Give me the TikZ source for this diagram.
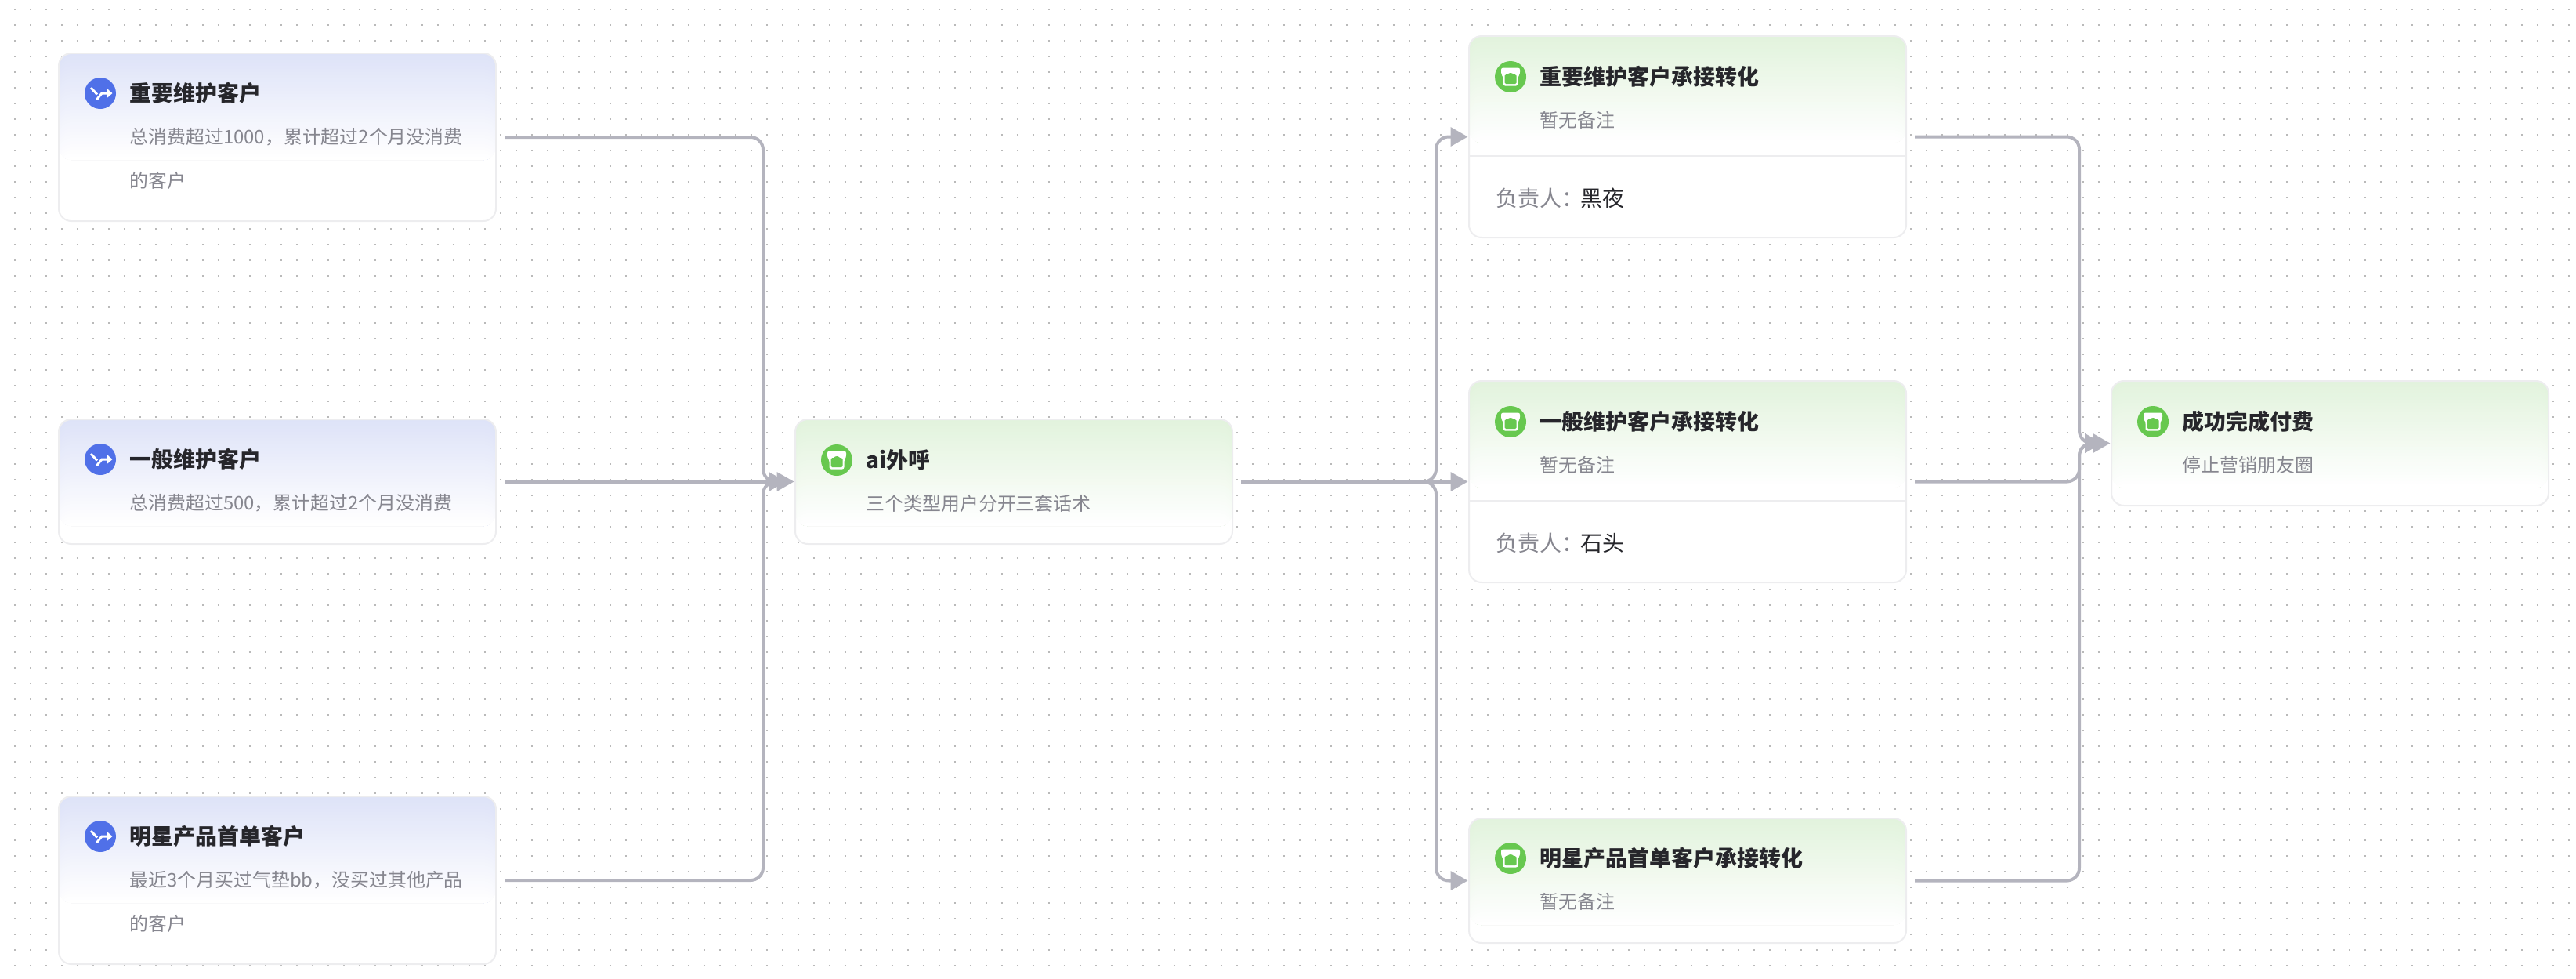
\documentclass[tikz,border=0pt]{standalone}
\usepackage{fontspec}
\setmainfont{Noto Sans CJK SC}
\usepackage{xcolor}
\usetikzlibrary{arrows.meta, positioning}

\definecolor{griddot}{HTML}{BABABA}
\definecolor{cardline}{HTML}{EDEDEF}
\definecolor{bluetop}{HTML}{DEE3F8}
\definecolor{greentop}{HTML}{E2F3DD}
\definecolor{blueicon}{HTML}{5070E8}
\definecolor{greenicon}{HTML}{67C84F}
\definecolor{flowline}{HTML}{B4B4BE}
\definecolor{titleink}{HTML}{26262B}
\definecolor{descink}{HTML}{86868F}

\tikzset{
    card/.style={rectangle, draw=cardline, line width=1.13pt, fill=white, rounded corners=0.32cm, minimum width=11.16cm, inner sep=0pt, outer sep=0pt},
    fadecard/.style={card, path picture={
        \foreach \p [evaluate=\p as \mix using int(100-3*\p)] in {0,...,33} {
            \fill[#1!\mix!white] ([yshift={-\p*0.08cm}]path picture bounding box.north west) rectangle ([yshift=-2.72cm]path picture bounding box.north east);
        }}},
    bluecard/.style={fadecard=bluetop},
    greencard/.style={fadecard=greentop},
    routeicon/.style={circle, fill=blueicon, minimum size=0.8cm, inner sep=0pt, path picture={
        \begin{scope}[shift={(path picture bounding box.center)}]
            \draw[white, line width=1.7pt] (-0.24,0.14) -- (-0.08,-0.03);
            \draw[white, line width=1.7pt] (-0.09,-0.16) -- (0.04,0) -- (0.2,0);
            \fill[white] (0.31,0) -- (0.16,0.13) -- (0.16,-0.13) -- cycle;
        \end{scope}}},
    shopicon/.style={circle, fill=greenicon, minimum size=0.8cm, inner sep=0pt, path picture={
        \begin{scope}[shift={(path picture bounding box.center)}]
            \fill[white, rounded corners=0.05cm] (-0.24,0.23) -- (0.24,0.23) -- (0.24,0.07) -- (0.19,0) -- (0.19,-0.23) -- (-0.19,-0.23) -- (-0.19,0) -- (-0.24,0.07) -- cycle;
            \fill[greenicon, rounded corners=0.03cm] (-0.15,-0.18) -- (0.15,-0.18) -- (0.15,0) .. controls (0.15,0.06) and (0.08,0.06) .. (0.06,0.07) .. controls (0.03,0.1) and (-0.03,0.1) .. (-0.06,0.07) .. controls (-0.08,0.06) and (-0.15,0.06) .. (-0.15,0) -- cycle;
        \end{scope}}},
    cardtitle/.style={anchor=west, inner sep=0pt, text=titleink, text height=14pt, text depth=1.9pt, font=\fontsize{15.9pt}{15.9pt}\selectfont\bfseries},
    carddesc/.style={anchor=west, inner sep=0pt, text=descink, text height=12pt, text depth=1.6pt, font=\fontsize{13.6pt}{13.6pt}\selectfont},
    ownerlabel/.style={anchor=west, inner sep=0pt, text=descink, text height=14pt, text depth=1.9pt, font=\fontsize{15.9pt}{15.9pt}\selectfont},
    ownername/.style={anchor=west, inner sep=0pt, text=titleink, text height=14pt, text depth=1.9pt, font=\fontsize{15.9pt}{15.9pt}\selectfont},
    flow/.style={draw=flowline, line width=2.27pt, rounded corners=0.32cm, -{Triangle[length=12.5pt, width=13.6pt]}, shorten <=0.22cm, shorten >=0.03cm},
    flowrear/.style={flow, shorten >=0.24cm},
}

\begin{document}
\begin{tikzpicture}
    \useasboundingbox (0,0) rectangle (65.76,-24.96);

    % Dot grid
    \foreach \j in {0,...,61} {
        \draw[griddot, line width=0.04cm, dash pattern=on 0.04cm off 0.36cm] (0.36,{-0.24-0.4*\j}) -- (65.76,{-0.24-0.4*\j});
    }

    % Customer cards
    \node (heavy) [bluecard, minimum height=4.28cm] at (7.08,-3.5) {};
    \node (normal) [bluecard, minimum height=3.18cm, below=5.06cm of heavy] {};
    \node (star) [bluecard, minimum height=4.28cm, below=6.44cm of normal] {};

    % Call card and conversion cards
    \node (ai) [greencard, minimum height=3.18cm, right=7.64cm of normal] {};
    \node (normalconv) [greencard, minimum height=5.14cm, right=6.04cm of ai] {};
    \node (heavyconv) [greencard, minimum height=5.14cm, above=3.66cm of normalconv] {};
    \node (starconv) [greencard, minimum height=3.18cm, below=6.02cm of normalconv] {};
    \node (paid) [greencard, minimum height=3.18cm, right=5.24cm of normalconv, yshift=0.98cm] {};

    % Icons
    \node (heavyicon) [routeicon] at ([shift={(1.06,-1.02)}]heavy.north west) {};
    \node (normalicon) [routeicon] at ([shift={(1.06,-1.02)}]normal.north west) {};
    \node (staricon) [routeicon] at ([shift={(1.06,-1.02)}]star.north west) {};
    \node (aiicon) [shopicon] at ([shift={(1.06,-1.04)}]ai.north west) {};
    \node (heavyconvicon) [shopicon] at ([shift={(1.06,-1.04)}]heavyconv.north west) {};
    \node (normalconvicon) [shopicon] at ([shift={(1.06,-1.04)}]normalconv.north west) {};
    \node (starconvicon) [shopicon] at ([shift={(1.06,-1.02)}]starconv.north west) {};
    \node (paidicon) [shopicon] at ([shift={(1.06,-1.04)}]paid.north west) {};

    % Titles
    \node (heavytitle) [cardtitle, right=0.34cm of heavyicon.east, anchor=west] {重要维护客户};
    \node (normaltitle) [cardtitle, right=0.34cm of normalicon.east, anchor=west] {一般维护客户};
    \node (startitle) [cardtitle, right=0.34cm of staricon.east, anchor=west] {明星产品首单客户};
    \node (aititle) [cardtitle, right=0.34cm of aiicon.east, anchor=west] {ai外呼};
    \node (heavyconvtitle) [cardtitle, right=0.34cm of heavyconvicon.east, anchor=west] {重要维护客户承接转化};
    \node (normalconvtitle) [cardtitle, right=0.34cm of normalconvicon.east, anchor=west] {一般维护客户承接转化};
    \node (starconvtitle) [cardtitle, right=0.34cm of starconvicon.east, anchor=west] {明星产品首单客户承接转化};
    \node (paidtitle) [cardtitle, right=0.34cm of paidicon.east, anchor=west] {成功完成付费};

    % Descriptions
    \node (heavydesc) [carddesc, below=1.1cm of heavytitle.west, anchor=west] {总消费超过1000，累计超过2个月没消费};
    \node (heavymore) [carddesc, below=1.12cm of heavydesc.west, anchor=west] {的客户};
    \node (normaldesc) [carddesc, below=1.1cm of normaltitle.west, anchor=west] {总消费超过500，累计超过2个月没消费};
    \node (stardesc) [carddesc, below=1.1cm of startitle.west, anchor=west] {最近3个月买过气垫bb，没买过其他产品};
    \node (starmore) [carddesc, below=1.12cm of stardesc.west, anchor=west] {的客户};
    \node (aidesc) [carddesc, below=1.1cm of aititle.west, anchor=west] {三个类型用户分开三套话术};
    \node (heavyconvdesc) [carddesc, below=1.1cm of heavyconvtitle.west, anchor=west] {暂无备注};
    \node (normalconvdesc) [carddesc, below=1.1cm of normalconvtitle.west, anchor=west] {暂无备注};
    \node (starconvdesc) [carddesc, below=1.1cm of starconvtitle.west, anchor=west] {暂无备注};
    \node (paiddesc) [carddesc, below=1.1cm of paidtitle.west, anchor=west] {停止营销朋友圈};

    % Owners
    \draw[draw=cardline, line width=1.13pt] ([yshift=-3.06cm]heavyconv.north west) -- ([yshift=-3.06cm]heavyconv.north east);
    \draw[draw=cardline, line width=1.13pt] ([yshift=-3.06cm]normalconv.north west) -- ([yshift=-3.06cm]normalconv.north east);
    \node (heavyowner) [ownerlabel] at ([shift={(0.68,1)}]heavyconv.south west) {负责人：};
    \node (heavyname) [ownername, right=2.16cm of heavyowner.west, anchor=west] {黑夜};
    \node (normalowner) [ownerlabel] at ([shift={(0.68,1)}]normalconv.south west) {负责人：};
    \node (normalname) [ownername, right=2.16cm of normalowner.west, anchor=west] {石头};

    % Bus points
    \coordinate [left=0.82cm of ai.west] (aibus);
    \coordinate [right=5.2cm of ai.east] (convbus);
    \coordinate [left=0.82cm of paid.west] (paidbus);

    % Arrows
    \draw[flowrear] (heavy.east) -| (aibus) -- (ai.west);
    \draw[flow] (normal.east) -- (ai.west);
    \draw[flowrear] (star.east) -| (aibus) -- (ai.west);
    \draw[flow] (ai.east) -- (convbus) |- (heavyconv.west);
    \draw[flow] (ai.east) -- (normalconv.west);
    \draw[flow] (ai.east) -- (convbus) |- (starconv.west);
    \draw[flow] (heavyconv.east) -| (paidbus) -- (paid.west);
    \draw[flowrear] (normalconv.east) -| (paidbus) -- (paid.west);
    \draw[flowrear] (starconv.east) -| (paidbus) -- (paid.west);
\end{tikzpicture}
\end{document}
